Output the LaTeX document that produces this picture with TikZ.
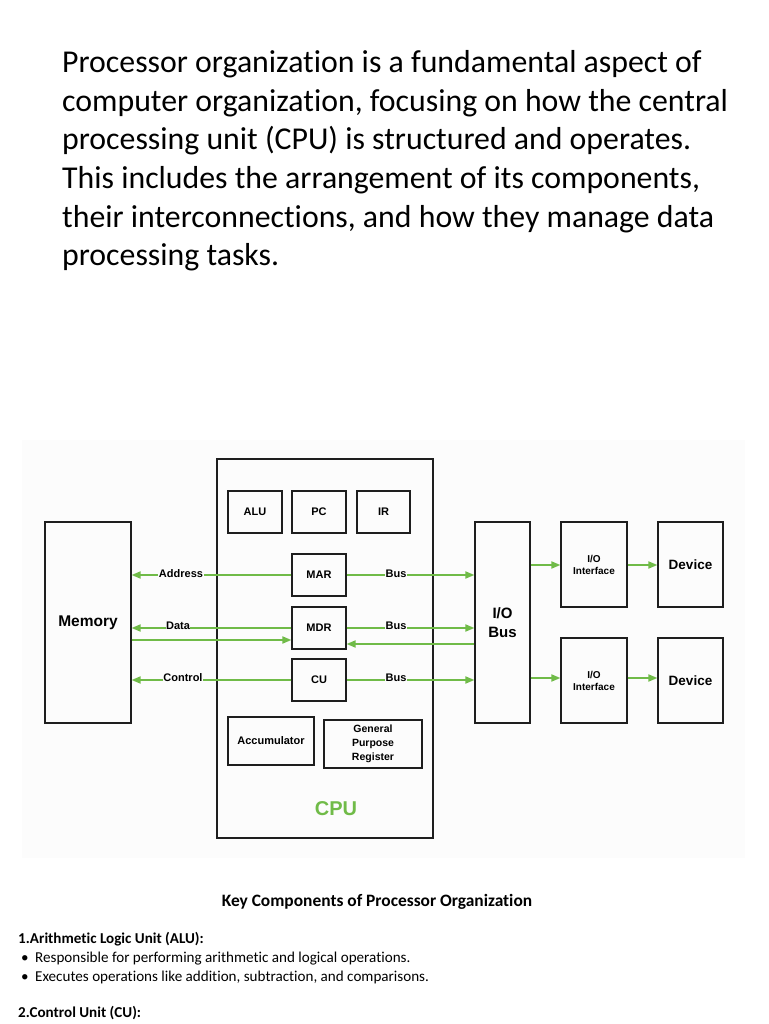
\documentclass[tikz,border=0pt]{standalone}
\usepackage{fontspec}
\setmainfont{Carlito}[Ligatures=NoCommon]
\newfontfamily\diag{Liberation Sans}
\usetikzlibrary{arrows.meta,calc}
\definecolor{lgreen}{RGB}{112,187,72}
\definecolor{bgdiag}{RGB}{252,252,252}
\definecolor{boxline}{RGB}{30,30,30}
\begin{document}
\begin{tikzpicture}[x=1pt,y=-1pt,
  box/.style={draw=boxline,line width=1.2pt,inner sep=0pt,font=\diag\bfseries\fontsize{11}{13}\selectfont,align=center},
  gline/.style={draw=lgreen,line width=1.8pt},
  garrow/.style={gline,-{Triangle[length=9pt,width=7pt]}},
  lbl/.style={fill=bgdiag,inner sep=0.5pt,font=\diag\bfseries\fontsize{11}{13}\selectfont},
  para/.style={anchor=base west,inner sep=0pt,font=\fontsize{31.8}{36}\selectfont},
  small/.style={anchor=base west,inner sep=0pt,font=\fontsize{15.1}{18}\selectfont}]
\useasboundingbox (0,0) rectangle (768,1024);
\fill[white] (0,0) rectangle (768,1024);
\fill[bgdiag] (22,440) rectangle (745,858);
% paragraph
\node[para] (p1) at (62,73) {Processor organization is a fundamental aspect of};
\node[para] (p2) at (62,111.5) {computer organization, focusing on how the central};
\node[para] (p3) at (62,150) {processing unit (CPU) is structured and operates.};
\node[para] (p4) at (62,188.5) {This includes the arrangement of its components,};
\node[para] (p5) at (62,227) {their interconnections, and how they manage data};
\node[para] (p6) at (62,265.5) {processing tasks.};
% boxes
\node[box,minimum width=86pt,minimum height=201pt,font=\diag\bfseries\fontsize{15.5}{17}\selectfont] (mem) at (88,622.5) {Memory};
\node[draw=boxline,line width=1.2pt,minimum width=216pt,minimum height=379pt,inner sep=0pt] (cpu) at (325,648.5) {};
\node[box,minimum width=54pt,minimum height=42pt] (alu) at (255,512) {ALU};
\node[box,minimum width=54pt,minimum height=42pt] (pc) at (319,512) {PC};
\node[box,minimum width=53pt,minimum height=42pt] (ir) at (383.5,512) {IR};
\node[box,minimum width=54pt,minimum height=42pt] (mar) at (319,575) {MAR};
\node[box,minimum width=54pt,minimum height=42pt] (mdr) at (319,628) {MDR};
\node[box,minimum width=54pt,minimum height=42pt] (cu) at (319,680) {CU};
\node[box,minimum width=86pt,minimum height=48pt] (acc) at (271,741) {Accumulator};
\node[box,minimum width=98pt,minimum height=48pt,font=\diag\bfseries\fontsize{10.5}{14}\selectfont] (gpr) at (373,744) {General\\Purpose\\Register};
\node[font=\diag\bfseries\fontsize{20}{24}\selectfont,text=lgreen] (cpulbl) at (336,809) {CPU};
\node[box,minimum width=55pt,minimum height=201pt,font=\diag\bfseries\fontsize{15}{19}\selectfont] (iobus) at (502.5,622.5) {I/O\\Bus};
\node[box,minimum width=66pt,minimum height=85pt,font=\diag\bfseries\fontsize{10}{12}\selectfont] (if1) at (594,564.5) {I/O\\Interface};
\node[box,minimum width=66pt,minimum height=85pt,font=\diag\bfseries\fontsize{10}{12}\selectfont] (if2) at (594,680.5) {I/O\\Interface};
\node[box,minimum width=65pt,minimum height=85pt,font=\diag\bfseries\fontsize{13.5}{16}\selectfont] (dev1) at (690.5,564.5) {Device};
\node[box,minimum width=65pt,minimum height=85pt,font=\diag\bfseries\fontsize{13.5}{16}\selectfont] (dev2) at (690.5,680.5) {Device};
% connectors left
\draw[garrow] (mar.west) -- (mem.east |- mar.west);
\draw[garrow] (mdr.west) -- (mem.east |- mdr.west);
\draw[garrow] (mem.east |- 0,640) -- (mdr.west |- 0,640);
\draw[garrow] (cu.west) -- (mem.east |- cu.west);
\node[lbl] (la) at (181,574) {Address};
\node[lbl] (ld) at (178,626) {Data};
\node[lbl] (lc) at (183,678) {Control};
% connectors right
\draw[garrow] (mar.east) -- (iobus.west |- mar.east);
\draw[garrow] (mdr.east) -- (iobus.west |- mdr.east);
\draw[garrow] (iobus.west |- 0,644) -- (mdr.east |- 0,644);
\draw[garrow] (cu.east) -- (iobus.west |- cu.east);
\node[lbl] (b1) at (396,574) {Bus};
\node[lbl] (b2) at (396,626) {Bus};
\node[lbl] (b3) at (396,678) {Bus};
% io
\draw[garrow] (iobus.east |- 0,565) -- (if1.west |- 0,565);
\draw[garrow] (iobus.east |- 0,678) -- (if2.west |- 0,678);
\draw[garrow] (if1.east |- 0,565) -- (dev1.west |- 0,565);
\draw[garrow] (if2.east |- 0,678) -- (dev2.west |- 0,678);
% lower text
\node[anchor=base,inner sep=0pt,font=\bfseries\fontsize{17.4}{20}\selectfont] (title) at (377,906) {Key Components of Processor Organization};
\node[small,font=\bfseries\fontsize{15.1}{18}\selectfont] (h1) at (18,943) {1.Arithmetic Logic Unit (ALU):};
\node[small] (bu1) at (21,962) {•};
\node[small] (t1) at (35,962) {Responsible for performing arithmetic and logical operations.};
\node[small] (bu2) at (21,981) {•};
\node[small] (t2) at (35,981) {Executes operations like addition, subtraction, and comparisons.};
\node[small,font=\bfseries\fontsize{15.1}{18}\selectfont] (h2) at (18,1017) {2.Control Unit (CU):};
\end{tikzpicture}
\end{document}
